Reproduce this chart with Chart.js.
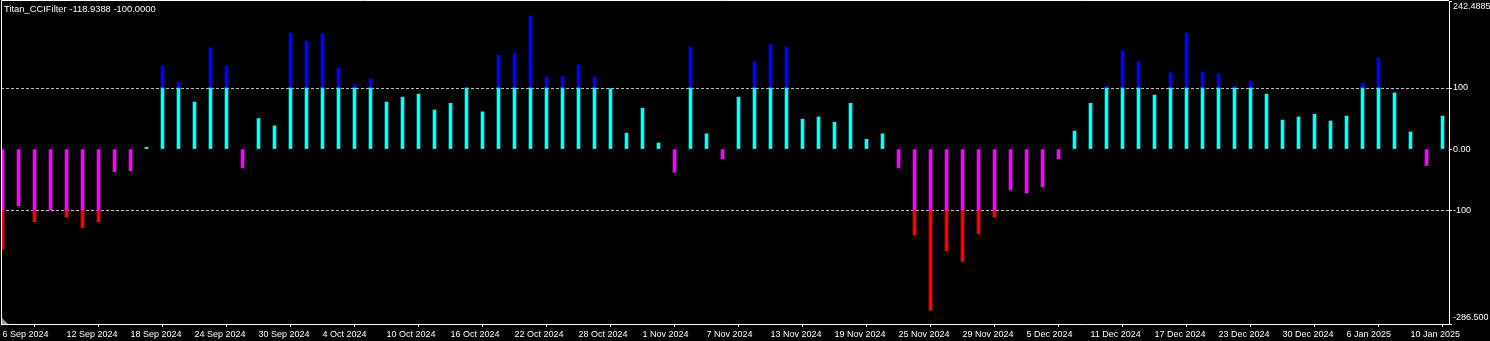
<!DOCTYPE html>
<html>
<head>
<meta charset="utf-8">
<script src="https://cdn.jsdelivr.net/npm/chart.js@4.4.1/dist/chart.umd.min.js"></script>
<style>
html, body { margin: 0; padding: 0; background: #000; overflow: hidden; }
</style>
</head>
<body>
<canvas id="chart" width="1490" height="341"></canvas>
<script>
const TITLE = "Titan_CCIFilter -118.9388 -100.0000";

// one label every 4 bars
const dateLabels = ["6 Sep 2024", "12 Sep 2024", "18 Sep 2024", "24 Sep 2024", "30 Sep 2024",
    "4 Oct 2024", "10 Oct 2024", "16 Oct 2024", "22 Oct 2024", "28 Oct 2024", "1 Nov 2024",
    "7 Nov 2024", "13 Nov 2024", "19 Nov 2024", "25 Nov 2024", "29 Nov 2024", "5 Dec 2024",
    "11 Dec 2024", "17 Dec 2024", "23 Dec 2024", "30 Dec 2024", "6 Jan 2025", "10 Jan 2025"];

const cciValues = [
    -164, -93, -118.94, -100, -111.5, -129, -119, -37, -35.5, 3,
    136, 110, 77, 166, 136, -31, 50, 38, 190, 177,
    189, 133, 105, 115, 77, 85, 90, 64, 75, 101,
    61, 154, 157, 218, 118, 120, 138, 118, 99, 26,
    67, 10, -38, 167, 25, -16, 85, 143, 172, 167,
    49, 52.5, 44, 75, 16, 25, -31, -141, -264, -167,
    -184, -139, -111.5, -67, -72, -62, -16, 29.5, 75, 103,
    161, 143, 88.5, 125, 190, 126, 123, 103, 111.5, 90,
    47.5, 52.5, 57, 46, 54, 108, 149, 92, 28, -27,
    54
];

const yTicks = [-286.5, -100, 0, 100, 242.4885];
const yTickLabels = ["-286.500", "-100", "0.00", "100", "242.4885"];
const levelLines = [100, -100];

const FONT = "'Liberation Sans', Arial, sans-serif";

// split every value into the four coloured parts of the histogram
var upperPart = [], overPart = [], lowerPart = [], underPart = [];
cciValues.forEach(function(v, i) {
    if (v >= 0) {
        upperPart.push({x: i, y: [0, Math.min(v, 100)]});
        if (v > 100) overPart.push({x: i, y: [100, v]});
    } else {
        lowerPart.push({x: i, y: [0, Math.max(v, -100)]});
        if (v < -100) underPart.push({x: i, y: [-100, v]});
    }
});

var makeSet = function(data, color) {
    return {
        data: data,
        backgroundColor: color,
        borderWidth: 0,
        barThickness: 3,
        grouped: false
    };
};

var decor = {
    id: 'decor',
    afterDraw: function(chart) {
        var ctx = chart.ctx;
        var a = chart.chartArea;
        var yScale = chart.scales.y;
        ctx.save();

        // frame on the left and top
        ctx.strokeStyle = '#ffffff';
        ctx.lineWidth = 1;
        ctx.beginPath();
        ctx.moveTo(1.5, a.bottom);
        ctx.lineTo(1.5, 0.5);
        ctx.lineTo(a.right, 0.5);
        ctx.stroke();

        // little shift marker in the corner
        ctx.fillStyle = '#8a94a6';
        ctx.beginPath();
        ctx.moveTo(2, a.bottom - 6);
        ctx.lineTo(2, a.bottom);
        ctx.lineTo(8, a.bottom);
        ctx.closePath();
        ctx.fill();

        // right axis labels, kept inside the plot height
        ctx.fillStyle = '#ffffff';
        ctx.font = '9px ' + FONT;
        ctx.textBaseline = 'middle';
        ctx.textAlign = 'left';
        yTicks.forEach(function(v, k) {
            var py = yScale.getPixelForValue(v);
            py = Math.min(Math.max(py, a.top + 6), a.bottom - 6);
            ctx.fillText(yTickLabels[k], a.right + 4, py);
        });

        ctx.font = '9.4px ' + FONT;
        ctx.fillText(TITLE, 4, 9.5);
        ctx.restore();
    }
};

new Chart(document.getElementById('chart'), {
    type: 'bar',
    data: {
        datasets: [
            makeSet(upperPart, '#00ffff'),
            makeSet(overPart, '#0000ff'),
            makeSet(lowerPart, '#ff00ff'),
            makeSet(underPart, '#ff0000')
        ]
    },
    plugins: [decor],
    options: {
        responsive: false,
        animation: false,
        devicePixelRatio: 1,
        layout: { padding: { left: 1, top: 1, right: 0, bottom: 0 } },
        plugins: {
            legend: { display: false },
            tooltip: { enabled: false }
        },
        scales: {
            x: {
                type: 'linear',
                min: -0.09375,
                max: 90.40625,
                offset: false,
                afterBuildTicks: function(s) {
                    s.ticks = dateLabels.map(function(d, k) { return {value: k * 4}; });
                },
                afterFit: function(s) { s.height = 17; },
                ticks: {
                    autoSkip: false,
                    maxRotation: 0,
                    align: 'start',
                    padding: 2,
                    color: '#ffffff',
                    font: { family: FONT, size: 9 },
                    callback: function(v) { return dateLabels[Math.round(v / 4)]; }
                },
                grid: { drawOnChartArea: false, tickLength: 3, tickColor: '#ffffff' },
                border: { color: '#ffffff' }
            },
            y: {
                position: 'right',
                min: -286.5,
                max: 242.4885,
                afterBuildTicks: function(s) {
                    s.ticks = yTicks.map(function(v) { return {value: v}; });
                },
                afterFit: function(s) { s.width = 41; },
                ticks: { display: false },
                grid: {
                    color: function(c) {
                        return c.tick && levelLines.indexOf(c.tick.value) >= 0 ? '#c0c0c0' : 'rgba(0,0,0,0)';
                    },
                    tickLength: 3,
                    tickColor: '#ffffff',
                    tickBorderDash: []
                },
                border: { color: '#ffffff', dash: [3, 2] }
            }
        }
    }
});
</script>
</body>
</html>
